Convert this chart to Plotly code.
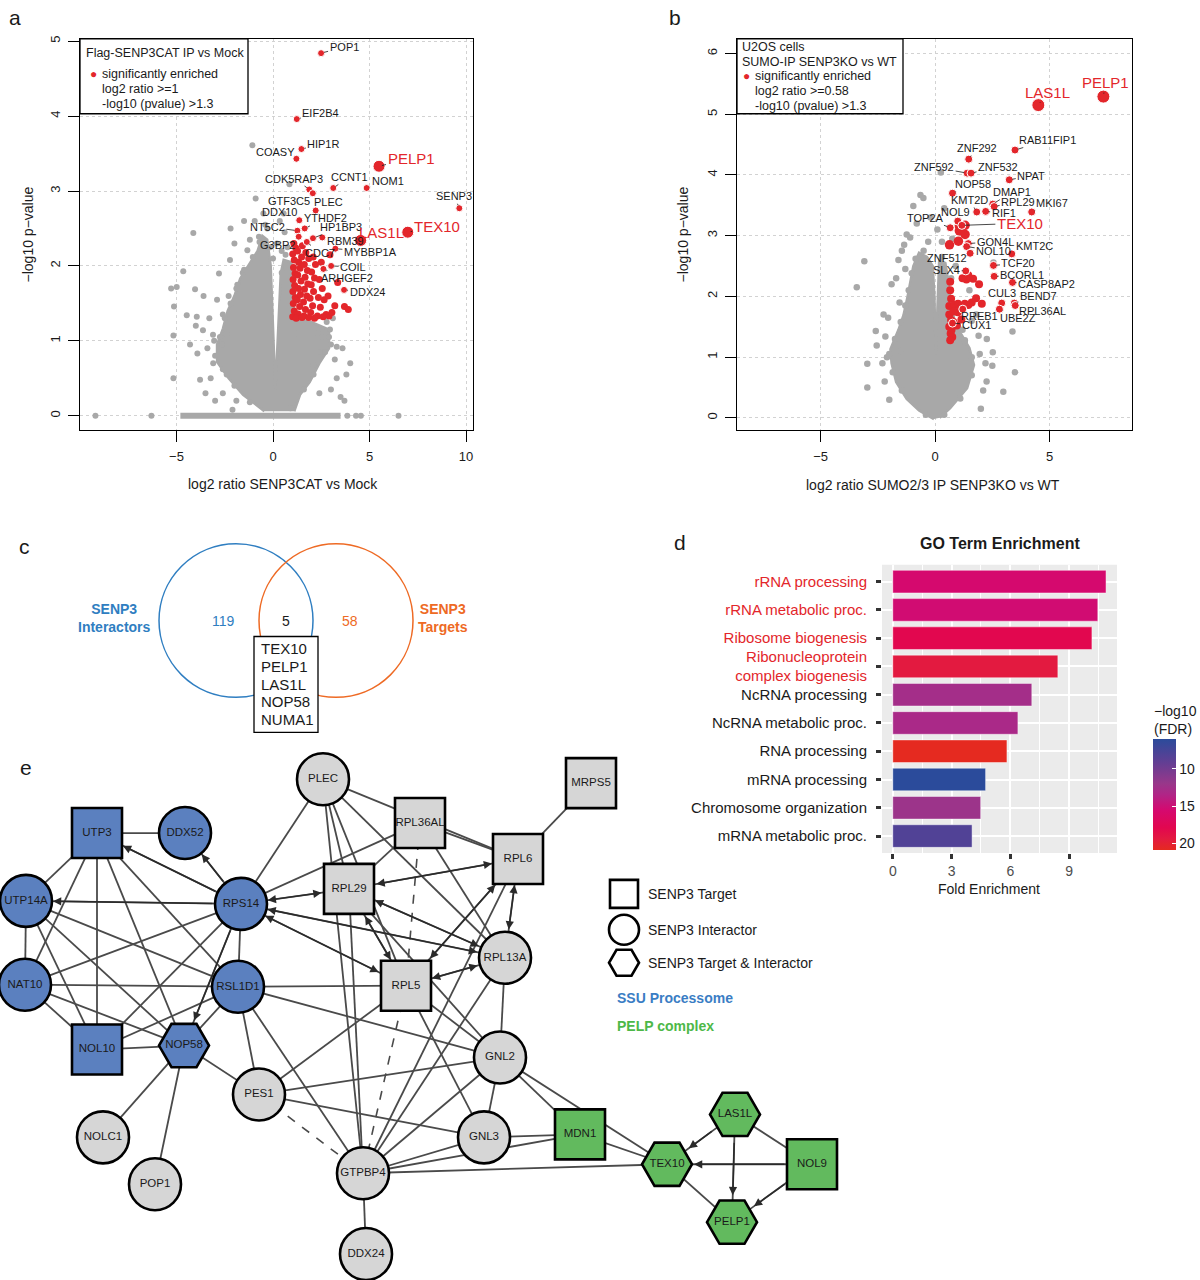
import plotly.graph_objects as go

W, H = 1200, 1280
FONT = "Liberation Sans, Arial, Helvetica, sans-serif"
GRAY = "#A8A8A8"
RED = "#E3262B"
INK = "#1a1a1a"

# ====================== DATA ======================
# ---- Panel a: Flag-SENP3CAT IP vs Mock (log2 ratio, -log10 p) ----
a_row_x = [-4.8, 3.5]                      # dense row of proteins at p = 1
a_row_y = [0.0, 0.0]
a_row_iso = [(-9.2, 0), (-6.3, 0), (3.85, 0), (4.3, 0), (4.55, 0), (6.5, 0)]
a_cloud_x = [-0.45, -1.55, -2.30, -2.90, -2.90, -2.60, -2.35, -2.00, -1.70, -1.30, -0.80, -0.55, -0.30,
             -0.12, -0.05, 0.00, 0.12, 0.24, 0.32, 0.40, 0.55, 0.95, 1.05, 1.10, 2.00, 2.90, 2.90, 2.40,
             1.90, 1.40, 1.10]
a_cloud_y = [0.06, 0.28, 0.50, 0.72, 0.95, 1.16, 1.40, 1.60, 1.83, 2.00, 2.20, 2.40, 2.35,
             2.00, 1.50, 1.00, 0.35, 1.00, 1.50, 1.90, 2.08, 2.05, 1.60, 1.30, 1.25, 1.15, 0.90, 0.70,
             0.45, 0.28, 0.06]
a_gray_pts = [(-1.07, 3.61), (0.85, 3.09), (-4.13, 2.44), (-0.73, 2.39), (-1.33, 2.21), (-2.23, 2.08),
              (-4.65, 1.93), (-1.57, 1.91), (-4.99, 1.72), (-5.28, 1.70), (-4.04, 1.69), (-5.13, 1.46),
              (-4.47, 1.34), (-3.95, 1.32), (-3.63, 1.14), (-3.11, 1.08), (-5.16, 1.07), (-3.92, 0.83),
              (-5.16, 0.50), (-3.78, 0.48), (-3.23, 0.50), (-2.40, 1.09), (3.30, 0.92), (2.78, 1.25),
              (2.44, 0.85), (2.10, 0.68), (0.45, 1.91), (-2.90, 1.55), (-3.40, 0.90), (-2.60, 0.30),
              (-3.00, 0.20), (3.80, 0.55), (3.00, 0.35), (2.90, 1.05), (-2.00, 2.30), (-1.90, 1.70),
              (-2.60, 1.35), (0.60, 2.45), (0.75, 2.25), (-0.30, 2.50), (3.50, 0.25), (4.00, 0.70),
              (-3.60, 1.60), (-4.30, 0.95), (0.35, 2.60), (-0.95, 2.60), (2.95, 1.15),
              (-3.10, 0.70), (-3.30, 1.30), (-2.80, 1.90), (-2.20, 2.50), (-1.50, 2.60), (-0.90, 2.90),
              (-1.90, 0.20), (-2.40, 0.55), (-3.50, 0.30), (-4.00, 1.20), (-2.30, 1.60), (3.60, 0.90),
              (3.30, 0.50), (2.40, 0.30), (3.10, 1.30), (0.20, 2.30), (0.00, 2.10), (-0.50, 2.70),
              (-1.20, 2.35), (-2.65, 0.95), (-3.05, 1.00), (0.55, 2.70), (3.70, 0.20), (-2.10, 0.08),
              (-0.40, 2.55), (-0.15, 2.25), (0.45, 2.20), (2.60, 1.05), (3.20, 0.75),
              (-3.00, 0.80), (-2.75, 1.05), (-2.50, 1.30), (-2.20, 1.50), (-1.85, 1.75), (-1.50, 1.95),
              (-1.05, 2.12), (-0.70, 2.32), (-2.00, 0.40), (-1.20, 0.18), (-2.60, 0.62), (0.65, 2.15),
              (1.20, 1.10), (2.30, 1.10), (2.70, 0.85), (2.10, 0.55), (1.60, 0.35), (0.90, 0.10), (3.00, 0.95)]
a_red_pts = [(1.02, 1.32), (1.10, 1.40), (1.05, 1.50), (1.15, 1.58), (1.03, 1.66), (1.12, 1.74), (1.04, 1.82),
             (1.14, 1.90), (1.06, 1.98), (1.10, 2.08), (1.02, 2.16), (1.18, 2.24), (1.08, 2.30),
             (1.30, 1.36), (1.38, 1.46), (1.26, 1.55), (1.42, 1.62), (1.32, 1.70), (1.45, 1.80), (1.28, 1.88),
             (1.40, 1.97), (1.33, 2.05), (1.48, 2.12), (1.27, 2.20), (1.52, 2.27),
             (1.60, 1.33), (1.68, 1.42), (1.58, 1.52), (1.75, 1.60), (1.63, 1.69), (1.80, 1.76), (1.66, 1.85),
             (1.78, 1.94), (1.62, 2.02), (1.85, 2.10), (1.70, 2.18),
             (1.95, 1.38), (2.05, 1.47), (1.92, 1.57), (2.10, 1.66), (1.98, 1.75), (2.15, 1.84), (2.00, 1.92),
             (2.20, 2.02), (2.08, 2.12),
             (2.30, 1.33), (2.45, 1.45), (2.35, 1.58), (2.55, 1.70), (2.40, 1.82), (2.65, 1.55), (2.50, 2.05),
             (2.75, 1.35), (2.90, 1.33), (3.05, 1.38), (2.85, 1.60), (3.20, 1.47), (3.70, 1.46), (3.90, 1.42),
             (3.35, 1.78), (2.95, 2.15), (1.20, 1.30), (1.50, 1.31), (1.85, 1.31), (2.15, 1.30), (2.60, 1.32)]
a_lab_genes = ["POP1", "EIF2B4", "HIP1R", "COASY", "PELP1", "CCNT1", "NOM1", "CDK5RAP3", "SENP3", "GTF3C5",
               "PLEC", "DDX10", "YTHDF2", "NT5C2", "HP1BP3", "LAS1L", "TEX10", "RBM39", "G3BP2", "CDC7",
               "MYBBP1A", "COIL", "ARHGEF2", "DDX24"]
a_lab_x = [2.49, 1.23, 1.47, 1.21, 5.49, 3.12, 4.85, 1.88, 9.65, 2.06, 2.21, 1.36, 1.64, 1.26, 2.07, 4.54,
           6.98, 2.55, 1.33, 1.75, 3.23, 3.01, 2.61, 3.68]
a_lab_y = [4.84, 3.96, 3.56, 3.43, 3.33, 3.04, 3.04, 3.02, 2.77, 2.97, 2.74, 2.61, 2.50, 2.47, 2.37, 2.34,
           2.45, 2.38, 2.39, 2.32, 2.23, 2.00, 1.96, 1.68]
a_highlight = ["PELP1", "LAS1L", "TEX10"]

# ---- Panel b: SUMO-IP SENP3KO vs WT ----
b_cloud_x = [-0.05, -0.70, -1.24, -1.70, -1.90, -1.95, -1.60, -1.38, -1.20, -1.09, -0.95, -0.70, -0.35,
             -0.10, -0.03, 0.03, 0.13, 0.18, 0.45, 0.60, 0.66, 0.85, 1.09, 1.50, 1.70, 1.40, 0.66, 0.20]
b_cloud_y = [-0.02, 0.12, 0.31, 0.59, 0.90, 1.13, 1.45, 1.69, 2.00, 2.23, 2.50, 2.72, 2.65,
             2.50, 2.00, 1.05, 2.00, 2.60, 2.55, 2.20, 1.96, 1.60, 1.41, 1.15, 0.87, 0.49, 0.16, 0.00]
b_gray_pts = [(-3.09, 2.58), (-3.42, 2.15), (-0.64, 3.67), (-0.51, 3.62), (-0.95, 3.49), (0.25, 4.04),
              (-1.24, 3.02), (-1.09, 2.97), (-1.35, 2.85), (-2.05, 1.65), (-2.59, 1.43), (-2.17, 1.34),
              (-2.55, 1.19), (-2.96, 0.89), (-2.96, 0.50), (2.52, 1.08), (2.50, 0.86), (3.38, 1.42),
              (3.49, 0.75), (2.98, 0.43), (2.10, 0.45), (2.55, 2.56), (2.26, 1.30), (-0.20, 3.30),
              (0.10, 3.10), (-0.80, 3.20), (0.40, 3.45), (-1.60, 2.60), (-1.90, 2.20), (-2.30, 0.90),
              (-2.00, 0.30), (1.60, 1.60), (1.90, 1.35), (2.20, 0.90), (2.00, 0.15), (1.50, 2.10),
              (-1.50, 1.10), (0.90, 2.50), (0.30, 2.90), (-0.30, 2.90), (-2.25, 1.70), (-1.70, 2.30),
              (-2.20, 0.60), (2.25, 0.60), (1.80, 1.70), (1.20, 1.45), (-1.45, 2.75), (0.75, 2.95),
              (-1.55, 1.90), (-1.30, 2.45), (1.95, 1.05), (1.30, 1.25), (0.95, 1.75), (-2.10, 1.00),
              (-1.45, 0.45), (-1.85, 0.75), (-2.00, 1.05), (-1.75, 1.30), (-1.50, 1.58), (-1.30, 1.85),
              (-1.15, 2.10), (-1.02, 2.38), (-0.85, 2.62), (-0.50, 2.75), (0.30, 2.65), (0.70, 2.30),
              (1.00, 1.50), (1.30, 1.28), (1.60, 1.00), (1.60, 0.70), (1.10, 0.32), (-0.40, 0.05), (0.40, 0.05)]
b_red_pts = [(0.66, 2.24), (0.66, 2.10), (0.70, 1.96), (0.62, 1.84), (0.85, 1.86), (1.00, 1.88), (1.30, 1.88),
             (1.45, 1.86), (0.62, 1.70), (0.70, 1.61), (0.80, 1.58), (0.62, 1.50), (0.68, 1.39), (0.75, 1.33),
             (0.99, 1.74), (0.95, 1.52), (0.72, 1.45), (1.37, 2.28), (1.66, 2.29), (1.92, 2.20), (1.45, 2.35),
             (1.20, 2.30), (1.79, 1.97), (2.04, 1.88), (0.80, 1.75), (1.10, 1.80), (1.60, 1.90), (1.15, 1.62),
             (0.66, 1.28)]
b_red_mid_pts = [(0.63, 2.85), (1.02, 2.91), (1.06, 3.08), (1.31, 3.02), (1.06, 3.16), (1.31, 3.17)]
b_lab_genes = ["PELP1", "LAS1L", "RAB11FIP1", "ZNF292", "ZNF592", "ZNF532", "NPAT", "NOP58", "DMAP1", "KMT2D",
               "RPL29", "MKI67", "RIF1", "NOL9", "TOP2A", "TEX10", "GON4L", "NOL10", "KMT2C", "ZNF512",
               "TCF20", "SLX4", "BCORL1", "CASP8AP2", "CUL3", "BEND7", "RPL36AL", "UBE2Z", "RREB1", "CUX1"]
b_lab_x = [7.35, 4.51, 3.49, 1.47, 1.40, 1.57, 3.24, 0.76, 2.52, 1.82, 2.58, 4.22, 2.21, 0.99, 0.66, 1.17,
           1.45, 1.38, 3.35, 1.53, 2.55, 1.34, 2.58, 3.38, 2.91, 3.46, 3.50, 2.81, 1.21, 0.76]
b_lab_y = [5.29, 5.15, 4.41, 4.26, 4.03, 4.03, 3.92, 3.70, 3.52, 3.39, 3.48, 3.39, 3.40, 3.24, 3.13, 3.17,
           2.87, 2.82, 2.70, 2.71, 2.51, 2.42, 2.33, 2.23, 1.89, 1.89, 1.85, 1.79, 1.79, 1.56]
b_highlight = ["PELP1", "LAS1L", "TEX10"]

# ---- Panel c: Venn ----
venn_counts = {"interactors_only": 119, "both": 5, "targets_only": 58}
venn_overlap_genes = ["TEX10", "PELP1", "LAS1L", "NOP58", "NUMA1"]

# ---- Panel d: GO term enrichment ----
go_terms = ["rRNA processing", "rRNA metabolic proc.", "Ribosome biogenesis",
            "Ribonucleoprotein<br>complex biogenesis", "NcRNA processing", "NcRNA metabolic proc.",
            "RNA processing", "mRNA processing", "Chromosome organization", "mRNA metabolic proc."]
go_fold = [10.89, 10.47, 10.17, 8.43, 7.10, 6.39, 5.83, 4.74, 4.49, 4.05]
go_log10fdr = [15.6, 15.3, 17.9, 19.4, 12.7, 13.1, 20.9, 6.0, 12.2, 8.2]
go_highlight = [True, True, True, True, False, False, False, False, False, False]

# ---- Panel e: network ----
node_names = ["PLEC", "MRPS5", "UTP3", "DDX52", "RPL36AL", "RPL6", "UTP14A", "RPS14", "RPL29", "RPL13A",
              "NAT10", "RSL1D1", "RPL5", "NOL10", "NOP58", "GNL2", "PES1", "NOLC1", "GNL3", "MDN1",
              "POP1", "GTPBP4", "DDX24", "LAS1L", "TEX10", "NOL9", "PELP1"]
node_kind = ["I", "T", "T", "I", "T", "T", "I", "I", "T", "I",
             "I", "I", "T", "T", "B", "I", "I", "I", "I", "T",
             "I", "I", "I", "B", "B", "T", "B"]          # T target, I interactor, B both
node_group = ["o", "o", "ssu", "ssu", "o", "o", "ssu", "ssu", "o", "o",
              "ssu", "ssu", "o", "ssu", "ssu", "o", "o", "o", "o", "pelp",
              "o", "o", "o", "pelp", "pelp", "pelp", "pelp"]
edges = [("UTP3", "DDX52"), ("UTP3", "UTP14A"), ("UTP3", "NAT10"), ("UTP3", "NOL10"), ("UTP3", "NOP58"),
         ("UTP3", "RSL1D1"), ("UTP14A", "NAT10"), ("UTP14A", "NOL10"), ("UTP14A", "RSL1D1"),
         ("UTP14A", "NOP58"), ("NAT10", "RSL1D1"), ("NAT10", "NOL10"), ("NAT10", "NOP58"), ("NAT10", "RPS14"),
         ("NOL10", "NOP58"), ("NOL10", "RSL1D1"), ("NOL10", "RPS14"), ("NOP58", "RSL1D1"), ("NOP58", "PES1"),
         ("NOP58", "NOLC1"), ("NOP58", "POP1"), ("RPS14", "RSL1D1"), ("RPS14", "PLEC"), ("RPS14", "RPL36AL"),
         ("RSL1D1", "RPL5"), ("RSL1D1", "GNL2"), ("RSL1D1", "PES1"), ("RSL1D1", "GTPBP4"),
         ("PLEC", "RPL29"), ("PLEC", "RPL5"), ("PLEC", "RPL6"), ("PLEC", "RPL13A"), ("PLEC", "GTPBP4"),
         ("RPL36AL", "RPL29"), ("RPL36AL", "RPL6"), ("RPL36AL", "RPL13A"), ("RPL6", "MRPS5"),
         ("RPL6", "GTPBP4"), ("RPL29", "GTPBP4"), ("RPL29", "GNL2"), ("RPL13A", "GNL2"), ("RPL13A", "GTPBP4"),
         ("RPL5", "PES1"), ("RPL5", "GNL2"), ("RPL5", "GNL3"), ("GNL2", "PES1"), ("GNL2", "GNL3"),
         ("GNL2", "GTPBP4"), ("GNL2", "MDN1"), ("GNL2", "TEX10"), ("PES1", "GNL3"), ("GNL3", "MDN1"),
         ("GNL3", "GTPBP4"), ("GTPBP4", "MDN1"), ("GTPBP4", "TEX10"), ("GTPBP4", "DDX24"), ("MDN1", "TEX10"),
         ("LAS1L", "NOL9"), ("TEX10", "PELP1")]
dashed_edges = [("RPL36AL", "RPL5"), ("RPL5", "GTPBP4"), ("PES1", "GTPBP4")]
arrows = [("RPS14", "UTP3", False), ("RPS14", "DDX52", False), ("RPS14", "UTP14A", False),
          ("RPS14", "NOP58", False), ("RPL29", "RPS14", True), ("RPL13A", "RPS14", True),
          ("RPL5", "RPS14", True), ("RPL29", "RPL6", True), ("RPL29", "RPL5", True), ("RPL13A", "RPL29", True),
          ("RPL5", "RPL6", True), ("RPL13A", "RPL5", True), ("RPL13A", "RPL6", True),
          ("LAS1L", "TEX10", False), ("LAS1L", "PELP1", False), ("NOL9", "TEX10", False),
          ("NOL9", "PELP1", False)]
legend_kinds = ["SENP3 Target", "SENP3 Interactor", "SENP3 Target & Interactor"]

# ====================== LAYOUT / STYLE (positions in page pixels) ======================
a_lab_off = {"POP1": (23, -6), "EIF2B4": (24, -6), "HIP1R": (22, -5), "COASY": (-21, -7), "PELP1": (32, -8),
             "CCNT1": (16, -11), "NOM1": (21, -7), "CDK5RAP3": (-15, -11), "SENP3": (-5, -12),
             "GTF3C5": (-24, 8), "PLEC": (13, -8), "DDX10": (-20, -8), "YTHDF2": (21, -10), "NT5C2": (-30, -4),
             "HP1BP3": (28, -11), "LAS1L": (21, -8), "TEX10": (29, -6), "RBM39": (23, 4), "G3BP2": (-21, 8),
             "CDC7": (13, 11), "MYBBP1A": (35, 3), "COIL": (22, 1), "ARHGEF2": (24, 9), "DDX24": (23, 2)}
b_lab_off = {"PELP1": (2, -14), "LAS1L": (9, -13), "RAB11FIP1": (33, -10), "ZNF292": (8, -11),
             "ZNF592": (-33, -6), "ZNF532": (27, -6), "NPAT": (22, -4), "NOP58": (21, -9), "DMAP1": (19, -12),
             "KMT2D": (-7, -12), "RPL29": (24, -5), "MKI67": (20, -9), "RIF1": (18, 2), "NOL9": (-2, -9),
             "TOP2A": (-25, -10), "TEX10": (58, -2), "GON4L": (27, -2), "NOL10": (27, 4), "KMT2C": (23, -8),
             "ZNF512": (-23, 5), "TCF20": (25, -2), "SLX4": (-19, -1), "BCORL1": (28, -1),
             "CASP8AP2": (34, 2), "CUL3": (0, -10), "BEND7": (24, -7), "RPL36AL": (27, 5), "UBE2Z": (19, 9),
             "RREB1": (17, 7), "CUX1": (24, 2)}
node_pos = {"PLEC": (323, 778), "MRPS5": (591, 782), "UTP3": (97, 832), "DDX52": (185, 832),
            "RPL36AL": (420, 822), "RPL6": (518, 858), "UTP14A": (26, 900), "RPS14": (241, 903),
            "RPL29": (349, 888), "RPL13A": (505, 957), "NAT10": (25, 984), "RSL1D1": (238, 986),
            "RPL5": (406, 985), "NOL10": (97, 1049), "NOP58": (184, 1045), "GNL2": (500, 1057),
            "PES1": (259, 1094), "NOLC1": (103, 1137), "GNL3": (484, 1137), "MDN1": (580, 1134),
            "POP1": (155, 1184), "GTPBP4": (363, 1173), "DDX24": (366, 1254), "LAS1L": (735, 1114),
            "TEX10": (667, 1164), "NOL9": (812, 1164), "PELP1": (732, 1222)}
kind_symbol = {"T": "square", "I": "circle", "B": "hexagon2"}
kind_size = {"T": 50, "I": 52, "B": 50}
group_color = {"ssu": "#5B80BF", "pelp": "#62BA5E", "o": "#D6D6D6"}


def pxy(py):
    return 1 - py / H


fig = go.Figure()
ann = []
shapes = []


def txt(s, x, y, size=13, color=INK, xanchor="center", yanchor="middle", angle=0, align="center"):
    ann.append(dict(text=s, x=x, y=y, xref="x4", yref="y4", showarrow=False, textangle=angle,
                    font=dict(family=FONT, size=size, color=color), xanchor=xanchor, yanchor=yanchor,
                    align=align))


def split(pts):
    return [p[0] for p in pts], [p[1] for p in pts]


# ---------------- Panel a traces ----------------
fig.add_trace(go.Scatter(x=a_cloud_x, y=a_cloud_y, fill="toself", mode="lines", fillcolor=GRAY,
                         line=dict(color=GRAY, width=2.5), xaxis="x", yaxis="y",
                         hoverinfo="skip", showlegend=False))
fig.add_trace(go.Scatter(x=a_row_x, y=a_row_y, mode="lines", line=dict(color=GRAY, width=6),
                         xaxis="x", yaxis="y", showlegend=False, hoverinfo="skip"))
gx, gy = split(a_gray_pts + a_row_iso)
fig.add_trace(go.Scatter(x=gx, y=gy, mode="markers", marker=dict(color=GRAY, size=6, opacity=1),
                         xaxis="x", yaxis="y", showlegend=False))
rx, ry = split(a_red_pts)
fig.add_trace(go.Scatter(x=rx, y=ry, mode="markers", marker=dict(color=RED, size=7, opacity=1),
                         xaxis="x", yaxis="y", showlegend=False))
fig.add_trace(go.Scatter(x=a_lab_x, y=a_lab_y, mode="markers",
                         marker=dict(color=RED, opacity=1,
                                     size=[12 if g in a_highlight else 7 for g in a_lab_genes]),
                         xaxis="x", yaxis="y", showlegend=False, text=a_lab_genes))
for g, x, y in zip(a_lab_genes, a_lab_x, a_lab_y):
    hl = g in a_highlight
    ox, oy = a_lab_off[g]
    ann.append(dict(text=g, x=x, y=y, xref="x", yref="y", ax=ox, ay=oy, showarrow=True, arrowhead=0,
                    arrowwidth=0.8, arrowcolor=INK, standoff=3,
                    font=dict(family=FONT, size=15 if hl else 11, color=RED if hl else INK)))

# ---------------- Panel b traces ----------------
fig.add_trace(go.Scatter(x=b_cloud_x, y=b_cloud_y, fill="toself", mode="lines", fillcolor=GRAY,
                         line=dict(color=GRAY, width=2.5), xaxis="x2", yaxis="y2",
                         hoverinfo="skip", showlegend=False))
gx, gy = split(b_gray_pts)
fig.add_trace(go.Scatter(x=gx, y=gy, mode="markers", marker=dict(color=GRAY, size=6.5, opacity=1),
                         xaxis="x2", yaxis="y2", showlegend=False))
rx, ry = split(b_red_pts)
fig.add_trace(go.Scatter(x=rx, y=ry, mode="markers", marker=dict(color=RED, size=8, opacity=1),
                         xaxis="x2", yaxis="y2", showlegend=False))
rx, ry = split(b_red_mid_pts)
fig.add_trace(go.Scatter(x=rx, y=ry, mode="markers", marker=dict(color=RED, size=9.5, opacity=1),
                         xaxis="x2", yaxis="y2", showlegend=False))
fig.add_trace(go.Scatter(x=b_lab_x, y=b_lab_y, mode="markers",
                         marker=dict(color=RED, opacity=1,
                                     size=[13 if g in ("PELP1", "LAS1L") else 8 for g in b_lab_genes]),
                         xaxis="x2", yaxis="y2", showlegend=False, text=b_lab_genes))
for g, x, y in zip(b_lab_genes, b_lab_x, b_lab_y):
    hl = g in b_highlight
    ox, oy = b_lab_off[g]
    ann.append(dict(text=g, x=x, y=y, xref="x2", yref="y2", ax=ox, ay=oy, showarrow=True, arrowhead=0,
                    arrowwidth=0.8, arrowcolor=INK, standoff=3,
                    font=dict(family=FONT, size=15 if hl else 11, color=RED if hl else INK)))

# ---------------- Panel d: bars ----------------
tick_txt = [('<span style="color:%s">%s</span>' % ("#E3262B" if h else INK, t)) for t, h in
            zip(go_terms, go_highlight)]
fig.add_trace(go.Bar(
    x=go_fold, y=go_terms, orientation="h", width=0.8, xaxis="x3", yaxis="y3", showlegend=False,
    marker=dict(color=[-v for v in go_log10fdr], cmin=-20.9, cmax=-6.0, opacity=1,
                colorscale=[[0, "#E52A20"], [0.1, "#E31A40"], [0.2, "#E2074F"], [0.36, "#D5096F"],
                            [0.5, "#B02587"], [0.6, "#98378A"], [0.8, "#5F3F94"], [1, "#2B4B9B"]],
                line=dict(color="rgba(255,255,255,0.45)", width=1),
                colorbar=dict(x=1153 / W, xanchor="left", y=pxy(793.5), yanchor="middle", len=111 / H,
                              lenmode="fraction", thickness=23, thicknessmode="pixels", outlinewidth=0,
                              tickvals=[-10, -15, -20], ticktext=["10", "15", "20"], ticks="inside",
                              ticklen=4, tickcolor="white", tickfont=dict(family=FONT, size=14, color=INK),
                              xpad=0, ypad=0))))
shapes.append(dict(type="rect", xref="x3 domain", yref="y3 domain", x0=0, x1=1, y0=0, y1=1,
                   fillcolor="#EBEBEB", line=dict(width=0), layer="below"))

# ---------------- Panel e: network ----------------
ex, ey = [], []
for a, b in edges + [(s, t) for s, t, _ in arrows]:
    ex += [node_pos[a][0], node_pos[b][0], None]
    ey += [node_pos[a][1], node_pos[b][1], None]
fig.add_trace(go.Scatter(x=ex, y=ey, mode="lines", line=dict(color="#4a4a4a", width=1.8), xaxis="x4",
                         yaxis="y4", hoverinfo="skip", showlegend=False))
dx, dy = [], []
for a, b in dashed_edges:
    dx += [node_pos[a][0], node_pos[b][0], None]
    dy += [node_pos[a][1], node_pos[b][1], None]
fig.add_trace(go.Scatter(x=dx, y=dy, mode="lines", line=dict(color="#4a4a4a", width=1.6, dash="dash"),
                         xaxis="x4", yaxis="y4", hoverinfo="skip", showlegend=False))
fig.add_trace(go.Scatter(
    x=[node_pos[n][0] for n in node_names], y=[node_pos[n][1] for n in node_names],
    mode="markers+text", text=node_names, textposition="middle center",
    textfont=dict(family=FONT, size=11.5, color=INK),
    marker=dict(symbol=[kind_symbol[k] for k in node_kind], size=[kind_size[k] for k in node_kind],
                color=[group_color[g] for g in node_group], opacity=1, line=dict(color="black", width=2.6)),
    xaxis="x4", yaxis="y4", showlegend=False))


def boundary(name, ux, uy):
    k = node_kind[node_names.index(name)]
    if k == "T":
        return 25 / max(abs(ux), abs(uy), 1e-6) + 1
    return 27


for s, t, both in arrows:
    (x0, y0), (x1, y1) = node_pos[s], node_pos[t]
    L = ((x1 - x0) ** 2 + (y1 - y0) ** 2) ** 0.5
    ux, uy = (x1 - x0) / L, (y1 - y0) / L
    ann.append(dict(x=x1, y=y1, ax=x0, ay=y0, xref="x4", yref="y4", axref="x4", ayref="y4", text="",
                    showarrow=True, arrowhead=2, arrowsize=1.1, arrowwidth=1.5, arrowcolor="#2a2a2a",
                    standoff=boundary(t, ux, uy), startstandoff=boundary(s, ux, uy),
                    arrowside="end+start" if both else "end", startarrowhead=2, startarrowsize=1.1))

# network legend
fig.add_trace(go.Scatter(x=[624, 624, 624], y=[893, 929, 962], mode="markers",
                         marker=dict(symbol=["square", "circle", "hexagon2"], size=[28, 30, 30], color="white",
                                     opacity=1, line=dict(color="black", width=2.6)),
                         xaxis="x4", yaxis="y4", showlegend=False, hoverinfo="skip"))
for lab, yy in zip(legend_kinds, [893, 929, 962]):
    txt(lab, 646, yy, size=14, xanchor="left")
txt("<b>SSU Processome</b>", 615, 997, size=14, color="#3A7DC4", xanchor="left")
txt("<b>PELP complex</b>", 615, 1025, size=14, color="#4DB848", xanchor="left")

# ---------------- Panel c: Venn ----------------
shapes.append(dict(type="circle", xref="x4", yref="y4", x0=159, x1=313, y0=542, y1=696,
                   line=dict(color="#2F7EC1", width=1.5)))
shapes.append(dict(type="circle", xref="x4", yref="y4", x0=259, x1=413, y0=542, y1=696,
                   line=dict(color="#EE6A24", width=1.5)))
shapes.append(dict(type="rect", xref="x4", yref="y4", x0=254, x1=318, y0=635, y1=731,
                   line=dict(color="black", width=1.3), fillcolor="white", layer="above"))
txt(str(venn_counts["interactors_only"]), 223, 619, size=14, color="#2F7EC1")
txt(str(venn_counts["both"]), 286, 619, size=14, color=INK)
txt(str(venn_counts["targets_only"]), 350, 619, size=14, color="#EE6A24")
for i, g in enumerate(venn_overlap_genes):
    txt(g, 259, 647 + i * 17.8, size=15, xanchor="left")
txt("<b>SENP3</b><br><b>Interactors</b>", 114, 616, size=14, color="#2F7EC1")
txt("<b>SENP3</b><br><b>Targets</b>", 443, 616, size=14, color="#EE6A24")

# ---------------- Legends of panels a, b ----------------
shapes.append(dict(type="rect", xref="x4", yref="y4", x0=80, x1=248, y0=36, y1=111,
                   line=dict(color="black", width=1.3), fillcolor="white", layer="above"))
txt("Flag-SENP3CAT IP vs Mock", 84, 50, size=12.5, xanchor="left")
txt("●", 93, 71, size=12, color=RED)
txt("significantly enriched", 100, 71, size=12.5, xanchor="left")
txt("log2 ratio >=1", 100, 86, size=12.5, xanchor="left")
txt("-log10 (pvalue) >1.3", 100, 101, size=12.5, xanchor="left")

shapes.append(dict(type="rect", xref="x4", yref="y4", x0=737, x1=903, y0=36, y1=111,
                   line=dict(color="black", width=1.3), fillcolor="white", layer="above"))
txt("U2OS cells", 740, 44, size=12.5, xanchor="left")
txt("SUMO-IP SENP3KO vs WT", 740, 59, size=12.5, xanchor="left")
txt("●", 746, 73, size=12, color=RED)
txt("significantly enriched", 753, 73, size=12.5, xanchor="left")
txt("log2 ratio >=0.58", 753, 88, size=12.5, xanchor="left")
txt("-log10 (pvalue) >1.3", 753, 103, size=12.5, xanchor="left")

# axis titles & panel letters
txt("log2 ratio SENP3CAT vs Mock", 283, 482, size=14)
txt("−log10 p−value", 28, 232, size=14, angle=-90)
txt("log2 ratio SUMO2/3 IP SENP3KO vs WT", 933, 483, size=14)
txt("−log10 p−value", 683, 232, size=14, angle=-90)
txt("<b>GO Term Enrichment</b>", 1000, 542, size=16)
txt("Fold Enrichment", 989, 888, size=14)
txt("−log10<br>(FDR)", 1152, 719, size=14, xanchor="left", align="left")
for letter, x, y in [("a", 15, 15), ("b", 675, 15), ("c", 24, 545), ("d", 680, 541), ("e", 26, 766)]:
    txt(letter, x, y, size=21)

# ---------------- Axes ----------------
volc_x = dict(showline=True, mirror=True, linecolor="black", linewidth=1.3, ticks="outside", ticklen=11,
              tickwidth=1.3, tickcolor="black", showgrid=True, gridcolor="#D2D2D2", griddash="dot", gridwidth=1,
              zeroline=False, tickfont=dict(family=FONT, size=13, color=INK), ticklabelstandoff=3)
volc_y = dict(volc_x, tickangle=-90)

layout = dict(
    width=W, height=H, autosize=False, margin=dict(l=0, r=0, t=0, b=0, pad=0),
    paper_bgcolor="white", plot_bgcolor="rgba(0,0,0,0)", showlegend=False,
    font=dict(family=FONT, color=INK),
    xaxis=dict(volc_x, domain=[80 / W, 473 / W], anchor="y", range=[-10.0, 10.36], tickvals=[-5, 0, 5, 10]),
    yaxis=dict(volc_y, domain=[pxy(428), pxy(36)], anchor="x", range=[-0.19, 5.03], tickvals=[0, 1, 2, 3, 4, 5]),
    xaxis2=dict(volc_x, domain=[737 / W, 1132 / W], anchor="y2", range=[-8.65, 8.6], tickvals=[-5, 0, 5]),
    yaxis2=dict(volc_y, domain=[pxy(428), pxy(36)], anchor="x2", range=[-0.2, 6.24],
                tickvals=[0, 1, 2, 3, 4, 5, 6]),
    xaxis3=dict(domain=[882 / W, 1117 / W], anchor="y3", range=[-0.55, 11.45], tickvals=[0, 3, 6, 9],
                showgrid=True, gridcolor="white", gridwidth=1.8, zeroline=False, ticks="outside", ticklen=5,
                tickwidth=3, tickcolor="#333", tickfont=dict(family=FONT, size=14, color="#4D4D4D"),
                minor=dict(dtick=1.5, tick0=0, showgrid=True, gridcolor="white", gridwidth=0.9, ticks="")),
    yaxis3=dict(domain=[pxy(852), pxy(563)], anchor="x3", type="category", range=[9.6, -0.6],
                tickvals=go_terms, ticktext=tick_txt, showgrid=True, gridcolor="white", gridwidth=1.8,
                zeroline=False, ticks="outside", ticklen=5, tickwidth=3, tickcolor="#333",
                tickfont=dict(family=FONT, size=15, color=INK), ticklabelstandoff=6),
    xaxis4=dict(domain=[0, 1], anchor="y4", range=[0, W], visible=False, fixedrange=True),
    yaxis4=dict(domain=[0, 1], anchor="x4", range=[H, 0], visible=False, fixedrange=True),
    annotations=ann, shapes=shapes,
)
fig.update_layout(**layout)
fig.write_html("out.html", config={"displayModeBar": False},
               post_script="document.body.style.margin='0';document.body.style.padding='0';")
